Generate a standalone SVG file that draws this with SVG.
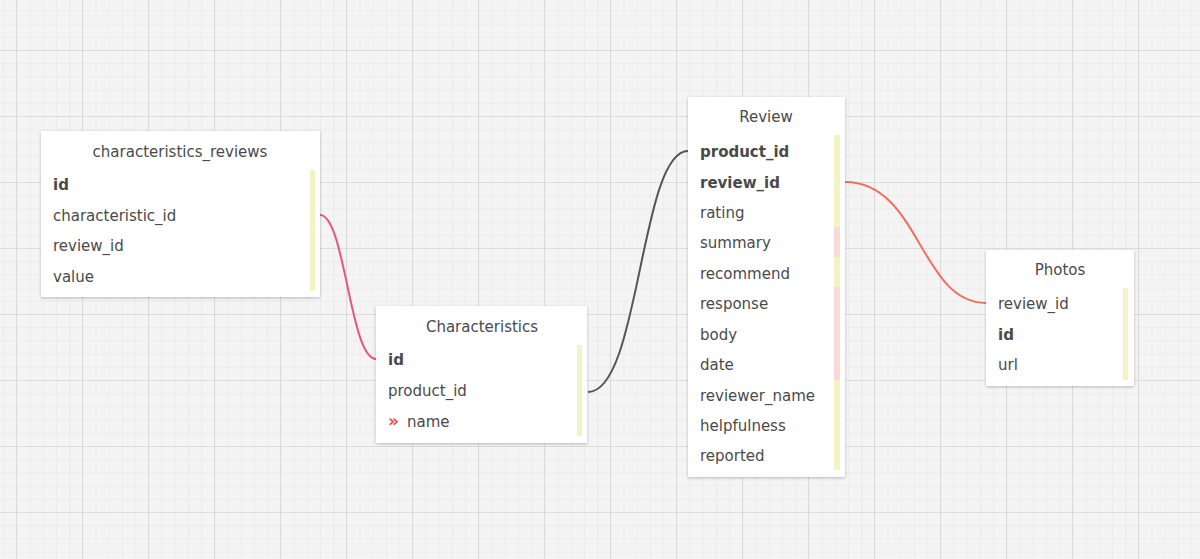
<svg xmlns="http://www.w3.org/2000/svg" width="1200" height="559" viewBox="0 0 1200 559">
<defs>
<pattern id="minor" x="3.2" y="10.4" width="13.2" height="13.2" patternUnits="userSpaceOnUse"><path d="M0 0H13.2M0 0V13.2" stroke="#e4e4e4" stroke-width="1" fill="none"/></pattern>
<pattern id="major" x="16" y="50" width="66" height="66" patternUnits="userSpaceOnUse"><path d="M0 0H66M0 0V66" stroke="#cdcdcd" stroke-width="1.2" fill="none"/></pattern>
<filter id="sh" x="-10%" y="-10%" width="120%" height="120%"><feDropShadow dx="0" dy="1" stdDeviation="1.5" flood-color="#000" flood-opacity="0.25"/></filter>
</defs>
<style>
.box{fill:#fff;filter:url(#sh)}
text{font-family:"DejaVu Sans","Open Sans",sans-serif;font-size:15px;fill:#4a4a4a}
.t{text-anchor:middle}
.b{font-weight:bold}
.y{fill:#f3f3c4}.p{fill:#fbd9d9}
.c{fill:none;stroke-width:2}
</style>
<rect width="1200" height="559" fill="#f4f4f4"/>
<rect width="1200" height="559" fill="url(#minor)"/>
<rect width="1200" height="559" fill="url(#major)"/>
<g id="connectors">
<path class="c" stroke="#e8577f" d="M320 215C345 215 350 359 376 359"/>
<path class="c" stroke="#555" d="M588 392C640 392 640 151 688 151"/>
<path class="c" stroke="#f07060" d="M845 182C920 182 920 303 986 303"/>
</g>
<g id="characteristics_reviews">
<rect class="box" x="41" y="131" width="279" height="166"/>
<rect class="y" x="310" y="170" width="5" height="121"/>
<text class="t" x="180" y="157">characteristics_reviews</text>
<text class="b" x="53" y="190">id</text>
<text x="53" y="221">characteristic_id</text>
<text x="53" y="251">review_id</text>
<text x="53" y="282">value</text>
</g>
<g id="Characteristics">
<rect class="box" x="376" y="306" width="211" height="137"/>
<rect class="y" x="577" y="345" width="5" height="91"/>
<text class="t" x="482" y="332">Characteristics</text>
<text class="b" x="388" y="365">id</text>
<text x="388" y="396">product_id</text>
<text x="388" y="427" style="fill:#e84a3f;font-weight:bold;font-size:17px">»</text>
<text x="407" y="427">name</text>
</g>
<g id="Review">
<rect class="box" x="688" y="97" width="157" height="380"/>
<rect class="y" x="834" y="135" width="6" height="92"/>
<rect class="p" x="834" y="227" width="6" height="30"/>
<rect class="y" x="834" y="257" width="6" height="30"/>
<rect class="p" x="834" y="287" width="6" height="93"/>
<rect class="y" x="834" y="380" width="6" height="90"/>
<text class="t" x="766" y="122">Review</text>
<text class="b" x="700" y="157">product_id</text>
<text class="b" x="700" y="188">review_id</text>
<text x="700" y="218">rating</text>
<text x="700" y="248">summary</text>
<text x="700" y="279">recommend</text>
<text x="700" y="309">response</text>
<text x="700" y="340">body</text>
<text x="700" y="370">date</text>
<text x="700" y="401">reviewer_name</text>
<text x="700" y="431">helpfulness</text>
<text x="700" y="461">reported</text>
</g>
<g id="Photos">
<rect class="box" x="986" y="250" width="148" height="136"/>
<rect class="y" x="1123" y="288" width="5" height="92"/>
<text class="t" x="1060" y="275">Photos</text>
<text x="998" y="309">review_id</text>
<text class="b" x="998" y="340">id</text>
<text x="998" y="370">url</text>
</g>
</svg>
